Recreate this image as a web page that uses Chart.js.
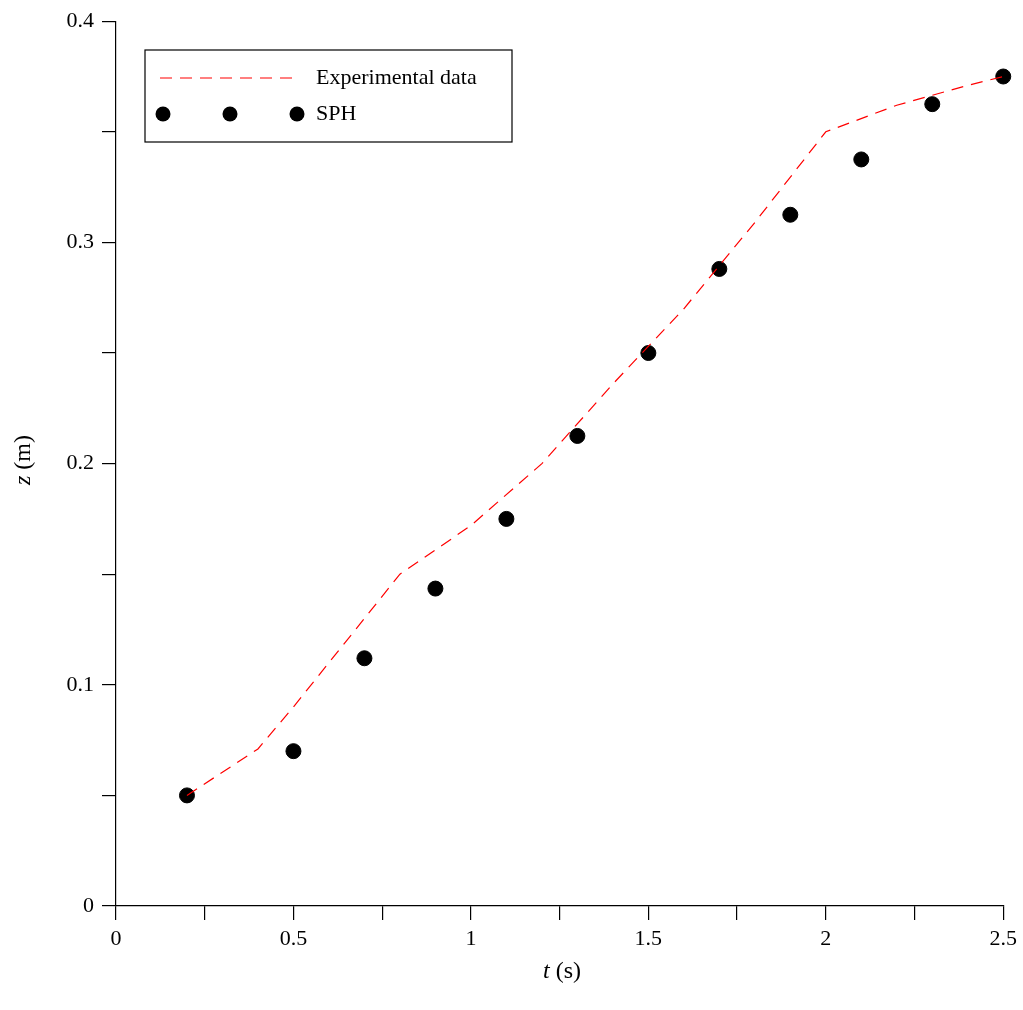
<!DOCTYPE html>
<html><head><meta charset="utf-8">
<script src="https://cdn.jsdelivr.net/npm/chart.js@4"></script>
<style>html,body{margin:0;padding:0;background:#fff}</style>
</head><body>
<canvas id="c" width="1023" height="1010"></canvas>
<script>
const expT = [0.2,0.4,0.5,0.6,0.8,1.0,1.2,1.4,1.6,1.8,2.0,2.2,2.4,2.5];
const expZ = [0.05,0.071,0.09,0.11,0.15,0.172,0.2,0.236,0.27,0.309,0.35,0.362,0.371,0.375];
const sphT = [0.2,0.5,0.7,0.9,1.1,1.3,1.5,1.7,1.9,2.1,2.3,2.5];
const sphZ = [0.05,0.07,0.112,0.1435,0.175,0.2125,0.25,0.288,0.3125,0.3375,0.3625,0.375];
const xLabels = ['0','0.5','1','1.5','2','2.5'];
const yLabels = ['0','0.1','0.2','0.3','0.4'];
const F = '"Liberation Serif", serif';
const deco = {
  id:'deco',
  afterDraw(ch){
    const c=ch.ctx; c.save();
    c.fillStyle='#fff'; c.strokeStyle='#000'; c.lineWidth=1.2;
    c.fillRect(145,50,367,92); c.strokeRect(145,50,367,92);
    c.strokeStyle='red'; c.lineWidth=1.2; c.setLineDash([12,8]);
    c.beginPath(); c.moveTo(160,78); c.lineTo(300,78); c.stroke(); c.setLineDash([]);
    c.fillStyle='#000';
    [163,230,297].forEach(x=>{c.beginPath();c.arc(x,114,7.5,0,Math.PI*2);c.fill();});
    c.font='22px '+F; c.textBaseline='middle'; c.textAlign='left';
    c.fillText('Experimental data',316,78); c.fillText('SPH',316,114);
    c.textAlign='left'; c.textBaseline='alphabetic';
    c.font='italic 24px '+F; const w1=c.measureText('t').width;
    c.font='24px '+F; const w2=c.measureText(' (s)').width;
    let x0=562-(w1+w2)/2;
    c.font='italic 24px '+F; c.fillText('t',x0,978);
    c.font='24px '+F; c.fillText(' (s)',x0+w1,978);
    c.translate(22,460); c.rotate(-Math.PI/2);
    c.font='italic 24px '+F; const v1=c.measureText('z').width;
    c.font='24px '+F; const v2=c.measureText(' (m)').width;
    let y0=-(v1+v2)/2;
    c.font='italic 24px '+F; c.fillText('z',y0,8);
    c.font='24px '+F; c.fillText(' (m)',y0+v1,8);
    c.restore();
  }
};
new Chart(document.getElementById('c'),{
  type:'scatter',
  data:{datasets:[
    {data:expT.map((t,i)=>({x:t,y:expZ[i]})),showLine:true,borderColor:'red',borderWidth:1.2,borderDash:[12,8],pointRadius:0,tension:0},
    {data:sphT.map((t,i)=>({x:t,y:sphZ[i]})),showLine:false,backgroundColor:'#000',borderColor:'#000',pointRadius:7.5,pointHoverRadius:7.5,clip:false}
  ]},
  options:{
    responsive:false,animation:false,
    layout:{padding:{top:11,right:11,left:0,bottom:0}},
    plugins:{legend:{display:false},tooltip:{enabled:false}},
    scales:{
      x:{type:'linear',min:0,max:2.5,
        afterFit(s){s.height=104;},
        afterBuildTicks(s){s.ticks=[0,0.25,0.5,0.75,1,1.25,1.5,1.75,2,2.25,2.5].map(v=>({value:v}));},
        ticks:{color:'#000',font:{family:F,size:22},maxRotation:0,autoSkip:false,padding:6,
          callback(v){const i=Math.round(v*2);return Math.abs(v*2-i)<1e-6?xLabels[i]:'';}},
        grid:{drawOnChartArea:false,tickLength:14,color:'#000',lineWidth:1.2},
        border:{color:'#000',width:1.2}},
      y:{min:0,max:0.4,
        afterFit(s){s.width=116;},
        afterBuildTicks(s){s.ticks=[0,0.05,0.1,0.15,0.2,0.25,0.3,0.35,0.4].map(v=>({value:v}));},
        ticks:{color:'#000',font:{family:F,size:22},autoSkip:false,padding:8,
          callback(v){const i=Math.round(v*10);return Math.abs(v*10-i)<1e-6?yLabels[i]:'';}},
        grid:{drawOnChartArea:false,tickLength:14,color:'#000',lineWidth:1.2},
        border:{color:'#000',width:1.2}}
    }
  },
  plugins:[deco]
});
</script>
</body></html>
